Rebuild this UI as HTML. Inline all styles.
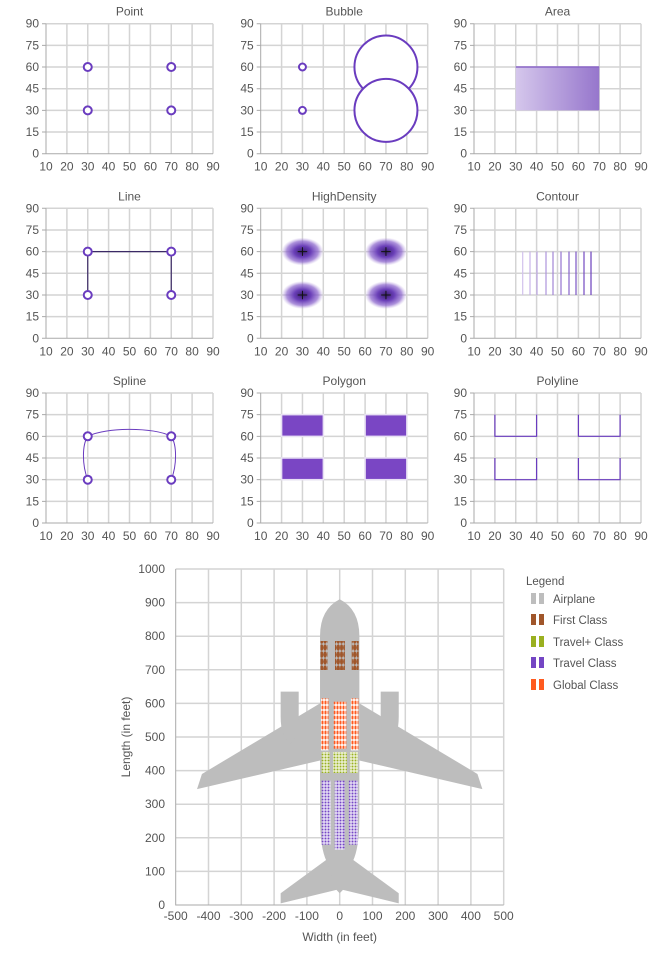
<!DOCTYPE html>
<html><head><meta charset="utf-8"><style>
body{margin:0;background:#fff;}
svg{display:block;font-family:"Liberation Sans","DejaVu Sans",sans-serif;}
.t{font-size:12px;fill:#555;}
.l{font-size:11.5px;fill:#555;}
</style></head><body>
<svg width="669" height="959" viewBox="0 0 669 959" xmlns="http://www.w3.org/2000/svg">
<defs>
<g id="frame">
<path d="M20.9 0V130M41.75 0V130M62.6 0V130M83.5 0V130M104.4 0V130M125.25 0V130M146.1 0V130M167 0V130M0 0H167M0 21.67H167M0 43.33H167M0 65H167M0 86.67H167M0 108.33H167" stroke="#d4d4d4" stroke-width="1.5" fill="none"/>
<path d="M0 0V130H167M-4 0H0M-4 21.67H0M-4 43.33H0M-4 65H0M-4 86.67H0M-4 108.33H0M-4 130H0" stroke="#aaa" stroke-width="1" fill="none"/>
<g class="t" text-anchor="end"><text x="-7" y="4">90</text><text x="-7" y="25.7">75</text><text x="-7" y="47.3">60</text><text x="-7" y="69">45</text><text x="-7" y="90.7">30</text><text x="-7" y="112.3">15</text><text x="-7" y="134">0</text></g>
<g class="t" text-anchor="middle"><text x="0" y="147">10</text><text x="20.9" y="147">20</text><text x="41.75" y="147">30</text><text x="62.6" y="147">40</text><text x="83.5" y="147">50</text><text x="104.4" y="147">60</text><text x="125.25" y="147">70</text><text x="146.1" y="147">80</text><text x="167" y="147">90</text></g>
</g>
<linearGradient id="ag" x1="0" x2="1"><stop offset="0" stop-color="#d5c7ec"/><stop offset="1" stop-color="#9676cc"/></linearGradient>
<radialGradient id="hd"><stop offset="0" stop-color="#3a1f6e"/><stop offset="0.4" stop-color="#6a3fb8"/><stop offset="0.75" stop-color="#8a63cc" stop-opacity="0.7"/><stop offset="1" stop-color="#b9a0e0" stop-opacity="0"/></radialGradient>
<pattern id="pp" x="0" y="0" width="3" height="3" patternUnits="userSpaceOnUse"><rect width="3" height="3" fill="#fff"/><rect x="0.5" y="0.5" width="2" height="2" fill="#7446c4"/></pattern>
<pattern id="pg" width="3" height="3" patternUnits="userSpaceOnUse"><rect width="3" height="3" fill="#fff"/><rect x="0.5" y="0.5" width="2" height="2" fill="#9ab020"/></pattern>
<pattern id="po" width="3" height="5" patternUnits="userSpaceOnUse"><rect width="3" height="5" fill="#fff"/><rect x="0.5" y="0.5" width="2" height="4" rx="1" fill="#ff5a1f"/></pattern>
<pattern id="pb" width="3.3" height="7" patternUnits="userSpaceOnUse"><rect width="3.3" height="7" fill="#bdbdbd"/><ellipse cx="1.65" cy="3.5" rx="1.6" ry="3.3" fill="#a0562a"/></pattern>
</defs>

<g transform="translate(46,23.7)">
<use href="#frame"/><text class="t" x="83.5" y="-8" text-anchor="middle">Point</text>
<g fill="#fff" stroke="#6a3cbf" stroke-width="2"><circle cx="41.75" cy="43.3" r="4"/><circle cx="41.75" cy="86.7" r="4"/><circle cx="125.25" cy="43.3" r="4"/><circle cx="125.25" cy="86.7" r="4"/></g>
</g>
<g transform="translate(260.7,23.7)">
<use href="#frame"/><text class="t" x="83.5" y="-8" text-anchor="middle">Bubble</text>
<g fill="#fff" stroke="#6a3cbf" stroke-width="2"><circle cx="41.75" cy="43.3" r="3.5"/><circle cx="41.75" cy="86.7" r="3.5"/><circle cx="125.25" cy="43.3" r="31.5"/><circle cx="125.25" cy="86.7" r="31.5"/></g>
</g>
<g transform="translate(474,23.7)">
<use href="#frame"/><text class="t" x="83.5" y="-8" text-anchor="middle">Area</text>
<rect x="41.75" y="43.3" width="83.5" height="43.4" fill="url(#ag)"/><line x1="41.75" y1="43.3" x2="125.25" y2="43.3" stroke="#8a66c8" stroke-width="1.5"/>
</g>

<g transform="translate(46,208.3)">
<use href="#frame"/><text class="t" x="83.5" y="-8" text-anchor="middle">Line</text>
<path d="M41.75 86.7V43.3H125.25V86.7" fill="none" stroke="#3b2a66" stroke-width="1.2"/>
<g fill="#fff" stroke="#6a3cbf" stroke-width="2"><circle cx="41.75" cy="43.3" r="4"/><circle cx="41.75" cy="86.7" r="4"/><circle cx="125.25" cy="43.3" r="4"/><circle cx="125.25" cy="86.7" r="4"/></g>
</g>
<g transform="translate(260.7,208.3)">
<use href="#frame"/><text class="t" x="83.5" y="-8" text-anchor="middle">HighDensity</text>
<g fill="url(#hd)"><ellipse cx="41.75" cy="43.3" rx="21" ry="14"/><ellipse cx="41.75" cy="86.7" rx="21" ry="14"/><ellipse cx="125.25" cy="43.3" rx="21" ry="14"/><ellipse cx="125.25" cy="86.7" rx="21" ry="14"/></g>
<path d="M37 43.3h9.5M41.75 39v8.6M37 86.7h9.5M41.75 82.4v8.6M120.5 43.3h9.5M125.25 39v8.6M120.5 86.7h9.5M125.25 82.4v8.6" stroke="#111" stroke-width="1"/>
</g>
<g transform="translate(474,208.3)">
<use href="#frame"/><text class="t" x="83.5" y="-8" text-anchor="middle">Contour</text>
<g stroke-width="1.2"><line x1="48.7" y1="43.3" x2="48.7" y2="86.7" stroke="#d2c2ec"/><line x1="56" y1="43.3" x2="56" y2="86.7" stroke="#c7b3e8"/><line x1="63" y1="43.3" x2="63" y2="86.7" stroke="#bba4e2"/><line x1="72" y1="43.3" x2="72" y2="86.7" stroke="#ae94dc"/><line x1="79" y1="43.3" x2="79" y2="86.7" stroke="#a184d6"/><line x1="87" y1="43.3" x2="87" y2="86.7" stroke="#9473d0"/><line x1="95" y1="43.3" x2="95" y2="86.7" stroke="#8763ca"/><line x1="102" y1="43.3" x2="102" y2="86.7" stroke="#7c55c4"/><line x1="110" y1="43.3" x2="110" y2="86.7" stroke="#7349c0"/><line x1="117" y1="43.3" x2="117" y2="86.7" stroke="#6a3fbc"/></g>
</g>

<g transform="translate(46,393)">
<use href="#frame"/><text class="t" x="83.5" y="-8" text-anchor="middle">Spline</text>
<path d="M41.75 86.7C36 72 36 52 41.75 43.3C60 34 108 34 125.25 43.3C131 52 131 72 125.25 86.7" fill="none" stroke="#6a3cbf" stroke-width="1"/>
<g fill="#fff" stroke="#6a3cbf" stroke-width="2"><circle cx="41.75" cy="43.3" r="4"/><circle cx="41.75" cy="86.7" r="4"/><circle cx="125.25" cy="43.3" r="4"/><circle cx="125.25" cy="86.7" r="4"/></g>
</g>
<g transform="translate(260.7,393)">
<use href="#frame"/><text class="t" x="83.5" y="-8" text-anchor="middle">Polygon</text>
<g fill="#7a46c4" stroke="#e8e0f4" stroke-width="1.5"><rect x="20.9" y="21.67" width="41.75" height="21.67"/><rect x="20.9" y="65" width="41.75" height="21.67"/><rect x="104.4" y="21.67" width="41.75" height="21.67"/><rect x="104.4" y="65" width="41.75" height="21.67"/></g>
</g>
<g transform="translate(474,393)">
<use href="#frame"/><text class="t" x="83.5" y="-8" text-anchor="middle">Polyline</text>
<path d="M20.9 21.67V43.33H62.6V21.67M20.9 65V86.67H62.6V65M104.4 21.67V43.33H146.1V21.67M104.4 65V86.67H146.1V65" fill="none" stroke="#6a3cbf" stroke-width="1.2"/>
</g>

<g>
<path d="M208.5 569V905M241.3 569V905M274.1 569V905M306.9 569V905M339.7 569V905M372.5 569V905M405.3 569V905M438.1 569V905M470.9 569V905M503.7 569V905M175.7 569H503.7M175.7 602.6H503.7M175.7 636.2H503.7M175.7 669.8H503.7M175.7 703.4H503.7M175.7 737H503.7M175.7 770.6H503.7M175.7 804.2H503.7M175.7 837.8H503.7M175.7 871.4H503.7" stroke="#d4d4d4" stroke-width="1.5" fill="none"/>
<path d="M175.7 569V905H503.7" stroke="#aaa" fill="none"/>
<g class="t" text-anchor="end"><text x="165" y="573">1000</text><text x="165" y="606.6">900</text><text x="165" y="640.2">800</text><text x="165" y="673.8">700</text><text x="165" y="707.4">600</text><text x="165" y="741">500</text><text x="165" y="774.6">400</text><text x="165" y="808.2">300</text><text x="165" y="841.8">200</text><text x="165" y="875.4">100</text><text x="165" y="909">0</text></g>
<g class="t" text-anchor="middle"><text x="175.7" y="920">-500</text><text x="208.5" y="920">-400</text><text x="241.3" y="920">-300</text><text x="274.1" y="920">-200</text><text x="306.9" y="920">-100</text><text x="339.7" y="920">0</text><text x="372.5" y="920">100</text><text x="405.3" y="920">200</text><text x="438.1" y="920">300</text><text x="470.9" y="920">400</text><text x="503.7" y="920">500</text></g>
<text class="t" x="339.7" y="941" text-anchor="middle">Width (in feet)</text>
<text class="t" transform="translate(130,737) rotate(-90)" text-anchor="middle">Length (in feet)</text>

<g transform="translate(339.7,905) scale(0.328,-0.336)" fill="#bdbdbd">
<path d="M60 600L420 390L435 345L60 430ZM-60 600L-420 390L-435 345L-60 430Z"/>
<path d="M125 635H180V560Q180 500 150 480Q125 500 125 560ZM-125 635H-180V560Q-180 500 -150 480Q-125 500 -125 560Z"/>
<path d="M40 135L180 35L180 5L10 45L0 35L-10 45L-180 5L-180 35L-40 135Z"/>
<path d="M-60 800Q-60 880 0 910Q60 880 60 800V260Q60 170 40 130L20 70L0 40L-20 70L-40 130Q-60 170 -60 260Z"/>
</g>
<rect x="321.7" y="780.7" width="9" height="64" fill="url(#pp)"/>
<rect x="334.8" y="780.7" width="9.8" height="69" fill="url(#pp)"/>
<rect x="348.9" y="780.7" width="9" height="64" fill="url(#pp)"/>
<rect x="321.7" y="752" width="8" height="21" fill="url(#pg)"/>
<rect x="333.1" y="752" width="13.8" height="21" fill="url(#pg)"/>
<rect x="349.9" y="752" width="8" height="21" fill="url(#pg)"/>
<rect x="321" y="698.4" width="7.5" height="52" fill="url(#po)"/>
<rect x="333.8" y="701.7" width="12.5" height="47" fill="url(#po)"/>
<rect x="350.9" y="698.4" width="7.5" height="52" fill="url(#po)"/>
<rect x="320.5" y="641" width="7" height="29" fill="url(#pb)"/>
<rect x="335" y="641" width="9.9" height="29" fill="url(#pb)"/>
<rect x="351.7" y="641" width="7" height="29" fill="url(#pb)"/>
</g>

<text class="l" x="526" y="585">Legend</text>
<g>
<rect x="531" y="593" width="5" height="11" fill="#bdbdbd"/><rect x="539" y="593" width="5" height="11" fill="#bdbdbd"/><text class="l" x="553" y="603">Airplane</text>
<rect x="531" y="614" width="5" height="11" fill="#a0562a"/><rect x="539" y="614" width="5" height="11" fill="#a0562a"/><text class="l" x="553" y="624">First Class</text>
<rect x="531" y="636" width="5" height="11" fill="#9ab020"/><rect x="539" y="636" width="5" height="11" fill="#9ab020"/><text class="l" x="553" y="646">Travel+ Class</text>
<rect x="531" y="657" width="5" height="11" fill="#7446c4"/><rect x="539" y="657" width="5" height="11" fill="#7446c4"/><text class="l" x="553" y="667">Travel Class</text>
<rect x="531" y="679" width="5" height="11" fill="#ff5a1f"/><rect x="539" y="679" width="5" height="11" fill="#ff5a1f"/><text class="l" x="553" y="689">Global Class</text>
</g>
</svg>
</body></html>
